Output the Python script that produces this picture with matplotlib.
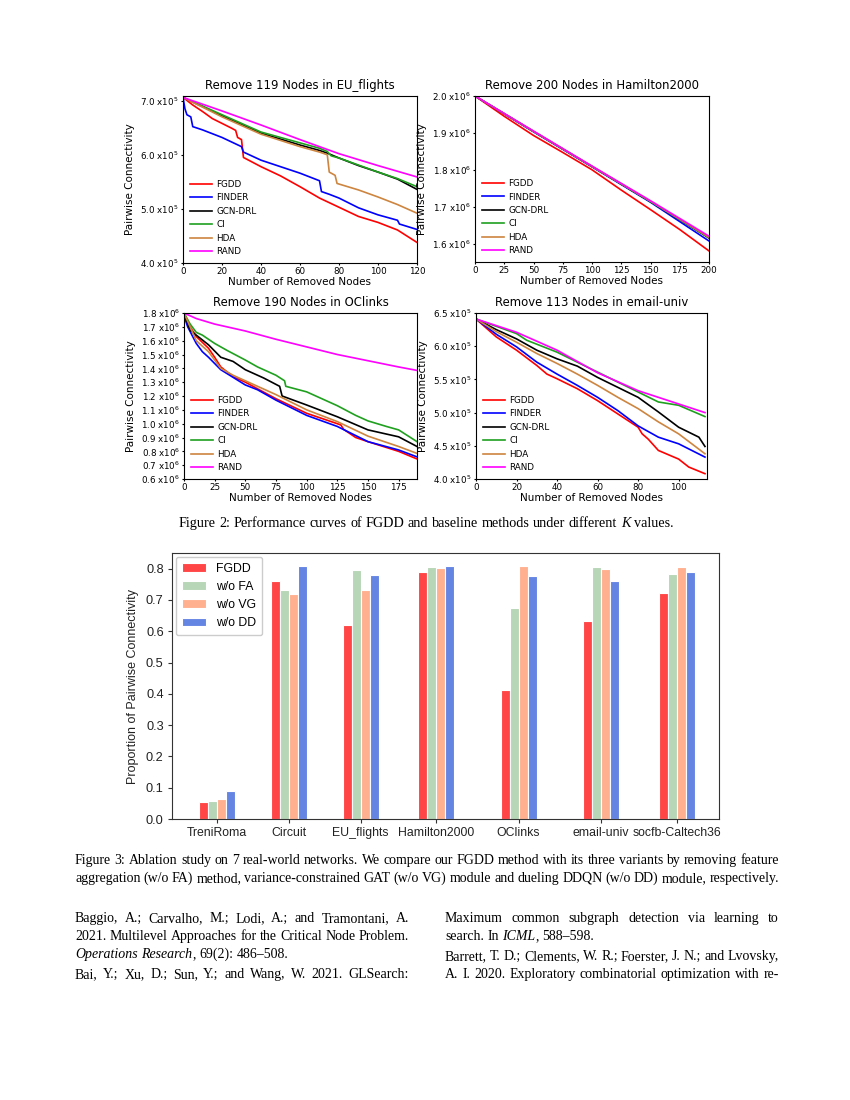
import matplotlib
matplotlib.use('Agg')
import matplotlib.pyplot as plt
from matplotlib.ticker import FuncFormatter

W, H = 850, 1100

methods = ['FGDD', 'FINDER', 'GCN-DRL', 'CI', 'HDA', 'RAND']
line_colors = ['red', 'blue', 'black', '#1fa01f', '#cd853f', 'magenta']

# ---- Figure 2 data (values in units of 10^exp) ----
# EU_flights, 119 nodes, x10^5
eu_x = {
    'FGDD':    [0, 5, 10, 15, 20, 25, 27, 28, 30, 31, 40, 50, 60, 70, 80, 90, 100, 110, 120],
    'FINDER':  [0, 1, 2, 4, 5, 10, 20, 30, 31, 40, 50, 60, 70, 71, 75, 80, 90, 100, 110, 111, 120],
    'GCN-DRL': [0, 20, 40, 60, 70, 74, 80, 90, 100, 110, 120],
    'CI':      [0, 20, 40, 60, 70, 74, 76, 80, 90, 100, 110, 120],
    'HDA':     [0, 20, 40, 60, 70, 74, 75, 78, 79, 90, 100, 110, 120],
    'RAND':    [0, 20, 40, 60, 80, 100, 120],
}
eu_y = {
    'FGDD':    [7.06, 6.92, 6.80, 6.67, 6.58, 6.49, 6.45, 6.32, 6.28, 5.95, 5.78, 5.61, 5.41, 5.20, 5.03, 4.86, 4.75, 4.61, 4.38],
    'FINDER':  [7.06, 6.85, 6.74, 6.70, 6.52, 6.46, 6.32, 6.15, 6.05, 5.90, 5.78, 5.66, 5.52, 5.32, 5.27, 5.20, 5.02, 4.89, 4.79, 4.72, 4.62],
    'GCN-DRL': [7.06, 6.72, 6.40, 6.18, 6.08, 6.03, 5.94, 5.80, 5.68, 5.55, 5.36],
    'CI':      [7.06, 6.74, 6.42, 6.22, 6.12, 6.06, 5.98, 5.94, 5.81, 5.68, 5.56, 5.41],
    'HDA':     [7.06, 6.70, 6.38, 6.15, 6.05, 6.00, 5.68, 5.62, 5.47, 5.35, 5.22, 5.08, 4.92],
    'RAND':    [7.06, 6.81, 6.55, 6.28, 6.02, 5.80, 5.59],
}

# Hamilton2000, 200 nodes, x10^6
ham_x = {
    'FGDD':    [0, 25, 50, 75, 100, 125, 150, 175, 200],
    'FINDER':  [0, 50, 100, 150, 200],
    'GCN-DRL': [0, 50, 100, 150, 200],
    'CI':      [0, 50, 100, 150, 200],
    'HDA':     [0, 50, 100, 150, 200],
    'RAND':    [0, 50, 100, 150, 200],
}
ham_y = {
    'FGDD':    [2.000, 1.945, 1.893, 1.847, 1.800, 1.745, 1.692, 1.638, 1.580],
    'FINDER':  [2.000, 1.903, 1.808, 1.712, 1.607],
    'GCN-DRL': [2.000, 1.904, 1.809, 1.714, 1.615],
    'CI':      [2.000, 1.904, 1.809, 1.714, 1.616],
    'HDA':     [2.000, 1.904, 1.809, 1.715, 1.617],
    'RAND':    [2.000, 1.905, 1.810, 1.716, 1.620],
}

# OClinks, 190 nodes, x10^6
oc_x = {
    'FGDD':    [0, 5, 10, 20, 25, 30, 40, 50, 75, 100, 125, 128, 130, 140, 150, 175, 190],
    'FINDER':  [0, 3, 10, 15, 20, 25, 30, 40, 50, 60, 75, 100, 125, 150, 175, 190],
    'GCN-DRL': [0, 5, 10, 20, 30, 40, 50, 65, 78, 80, 100, 125, 150, 175, 190],
    'CI':      [0, 5, 10, 15, 25, 35, 50, 60, 75, 82, 83, 100, 115, 125, 140, 150, 165, 175, 190],
    'HDA':     [0, 10, 20, 25, 30, 40, 50, 75, 100, 125, 150, 175, 190],
    'RAND':    [0, 5, 10, 25, 50, 75, 100, 125, 150, 175, 190],
}
oc_y = {
    'FGDD':    [1.80, 1.70, 1.63, 1.545, 1.48, 1.41, 1.34, 1.30, 1.18, 1.075, 1.00, 0.99, 0.96, 0.90, 0.87, 0.80, 0.745],
    'FINDER':  [1.78, 1.70, 1.58, 1.52, 1.48, 1.435, 1.39, 1.335, 1.28, 1.245, 1.17, 1.06, 0.98, 0.87, 0.81, 0.76],
    'GCN-DRL': [1.80, 1.675, 1.64, 1.57, 1.48, 1.45, 1.39, 1.33, 1.27, 1.20, 1.135, 1.05, 0.955, 0.905, 0.835],
    'CI':      [1.80, 1.72, 1.66, 1.64, 1.58, 1.53, 1.46, 1.41, 1.35, 1.31, 1.27, 1.23, 1.17, 1.13, 1.06, 1.02, 0.98, 0.955, 0.87],
    'HDA':     [1.80, 1.60, 1.52, 1.46, 1.40, 1.35, 1.31, 1.21, 1.10, 1.015, 0.91, 0.835, 0.785],
    'RAND':    [1.80, 1.78, 1.76, 1.72, 1.67, 1.61, 1.555, 1.50, 1.455, 1.41, 1.385],
}

# email-univ, 113 nodes, x10^5
em_x = {
    'FGDD':    [0, 10, 20, 30, 35, 40, 50, 60, 70, 80, 82, 85, 90, 100, 105, 113],
    'FINDER':  [0, 10, 20, 30, 40, 50, 60, 70, 80, 90, 100, 113],
    'GCN-DRL': [0, 10, 20, 30, 40, 50, 60, 70, 80, 90, 100, 110, 113],
    'CI':      [0, 20, 25, 40, 60, 80, 90, 100, 113],
    'HDA':     [0, 10, 20, 30, 40, 50, 60, 70, 80, 90, 100, 113],
    'RAND':    [0, 20, 40, 60, 80, 100, 113],
}
em_y = {
    'FGDD':    [6.41, 6.14, 5.94, 5.71, 5.58, 5.51, 5.36, 5.18, 4.98, 4.78, 4.68, 4.60, 4.43, 4.30, 4.18, 4.08],
    'FINDER':  [6.41, 6.18, 5.99, 5.76, 5.58, 5.41, 5.23, 5.03, 4.80, 4.63, 4.53, 4.33],
    'GCN-DRL': [6.41, 6.25, 6.11, 5.94, 5.81, 5.70, 5.53, 5.38, 5.23, 5.01, 4.78, 4.63, 4.49],
    'CI':      [6.41, 6.19, 6.09, 5.91, 5.61, 5.31, 5.16, 5.11, 4.94],
    'HDA':     [6.41, 6.22, 6.06, 5.89, 5.74, 5.58, 5.41, 5.23, 5.06, 4.86, 4.68, 4.38],
    'RAND':    [6.41, 6.21, 5.94, 5.60, 5.33, 5.13, 5.00],
}

# ---- Figure 3 data ----
networks = ['TreniRoma', 'Circuit', 'EU_flights', 'Hamilton2000', 'OClinks', 'email-univ', 'socfb-Caltech36']
variants = ['FGDD', 'w/o FA', 'w/o VG', 'w/o DD']
abl_fgdd = [0.055, 0.760, 0.620, 0.789, 0.413, 0.634, 0.722]
abl_wofa = [0.058, 0.733, 0.797, 0.804, 0.673, 0.804, 0.784]
abl_wovg = [0.065, 0.718, 0.733, 0.803, 0.808, 0.799, 0.806]
abl_wodd = [0.088, 0.808, 0.779, 0.808, 0.776, 0.760, 0.788]
bar_colors = ['#ff4545', '#b7d5b7', '#ffb08f', '#6585e3']

fig = plt.figure(figsize=(W / 100, H / 100), dpi=100)


def add_ax(l, t, w, h):
    return fig.add_axes([l / W, 1 - (t + h) / H, w / W, h / H])


def sci(exp):
    return FuncFormatter(lambda v, p: '%.1f x10$^%d$' % (v, exp))


panels = [
    ('Remove 119 Nodes in EU_flights', eu_x, eu_y, 5, (0, 120), range(0, 121, 20),
     (4.0, 7.086), [4.0, 5.0, 6.0, 7.0], (183, 96, 234, 167)),
    ('Remove 200 Nodes in Hamilton2000', ham_x, ham_y, 6, (0, 200), range(0, 201, 25),
     (1.55, 2.0), [1.6, 1.7, 1.8, 1.9, 2.0], (475, 96, 234, 166)),
    ('Remove 190 Nodes in OClinks', oc_x, oc_y, 6, (0, 190), range(0, 176, 25),
     (0.6, 1.8), [0.6 + 0.1 * i for i in range(13)], (184, 313, 233, 166)),
    ('Remove 113 Nodes in email-univ', em_x, em_y, 5, (0, 114), range(0, 101, 20),
     (4.0, 6.5), [4.0, 4.5, 5.0, 5.5, 6.0, 6.5], (476, 313, 231, 166)),
]

for title, xs, ys, exp, xlim, xticks, ylim, yticks, box in panels:
    ax = add_ax(*box)
    for m, c in zip(methods, line_colors):
        ax.plot(xs[m], ys[m], color=c, lw=1.2, label=m)
    ax.set_xlim(*xlim)
    ax.set_ylim(*ylim)
    ax.set_xticks(list(xticks))
    ax.set_yticks(yticks)
    ax.yaxis.set_major_formatter(sci(exp))
    ax.tick_params(labelsize=6.3, length=1.5, pad=1.5)
    ax.set_title(title, fontsize=8.4, pad=5)
    ax.set_xlabel('Number of Removed Nodes', fontsize=7.5)
    ax.set_ylabel('Pairwise Connectivity', fontsize=7.5)
    ax.xaxis.set_label_coords(0.5, -14 / box[3])
    ax.yaxis.set_label_coords(-48 / box[2], 0.5)
    ax.legend(loc='lower left', frameon=False, fontsize=6.3, handlelength=2.5,
              handletextpad=0.5, labelspacing=0.5, borderaxespad=0.4)

# ---- bar chart ----
bfont = 'Liberation Sans'
group_pos = [0, 1, 2, 3.05, 4.2, 5.35, 6.4]
bw = 0.125
ax = add_ax(172, 553, 547, 266)
for i, (name, vals) in enumerate(zip(variants, [abl_fgdd, abl_wofa, abl_wovg, abl_wodd])):
    ax.bar([p + (i - 1.5) * bw for p in group_pos], vals, bw, color=bar_colors[i],
           edgecolor='white', linewidth=0.8, label=name)
ax.set_xlim(-0.625, 6.99)
ax.set_ylim(0, 0.85)
ax.set_xticks(group_pos)
ax.set_xticklabels(networks, family=bfont, fontsize=8.8, color='#222222')
ax.set_yticks([0.1 * i for i in range(9)])
ax.set_yticklabels(['%.1f' % (0.1 * i) for i in range(9)], family=bfont, fontsize=9.2, color='#222222')
ax.tick_params(length=3, width=0.8, color='#333333', pad=3)
for s in ax.spines.values():
    s.set_color('#333333')
ax.set_ylabel('Proportion of Pairwise Connectivity', family=bfont, fontsize=9, color='#222222')
ax.yaxis.set_label_coords(-33 / 547, 0.5)
ax.legend(loc='upper left', prop={'family': bfont, 'size': 8.8}, borderaxespad=0.3,
          borderpad=0.5, fancybox=True, edgecolor='#cccccc', framealpha=1)

# ---- page text (Times-like) ----
serif = 'Liberation Serif'
renderer = fig.canvas.get_renderer()


def seg_width(s, italic, size):
    t = fig.text(0, 0, s, family=serif, fontsize=size, style='italic' if italic else 'normal')
    w = t.get_window_extent(renderer).width
    t.remove()
    return w


def put_line(text, x0, base, width=None, align='left', size=10.0):
    italic = False
    words = []
    for tok in text.split():
        parts = tok.split('*')
        segs = []
        for j, p in enumerate(parts):
            if j > 0:
                italic = not italic
            if p:
                segs.append((p, italic))
        words.append(segs)
    widths = [sum(seg_width(s, it, size) for s, it in w) for w in words]
    space = 0.25 * size * 100 / 72
    if width is not None and len(words) > 1:
        gap = (width - sum(widths)) / (len(words) - 1)
    else:
        gap = space
    total = sum(widths) + gap * (len(words) - 1)
    x = x0 - total / 2 if align == 'center' else x0
    for segs, w in zip(words, widths):
        xx = x
        for s, it in segs:
            fig.text(xx / W, 1 - base / H, s, family=serif, fontsize=size,
                     style='italic' if it else 'normal', ha='left', va='baseline')
            xx += seg_width(s, it, size)
        x += w + gap


put_line('Figure 2: Performance curves of FGDD and baseline methods under different *K* values.',
         426, 527, align='center', size=10.2)
put_line('Figure 3: Ablation study on 7 real-world networks. We compare our FGDD method with its three '
         'variants by removing feature', 75, 864, width=704)
put_line('aggregation (w/o FA) method, variance-constrained GAT (w/o VG) module and dueling DDQN '
         '(w/o DD) module, respectively.', 75, 882, width=704)

put_line('Baggio, A.; Carvalho, M.; Lodi, A.; and Tramontani, A.', 75, 922, width=334)
put_line('2021. Multilevel Approaches for the Critical Node Problem.', 75, 940, width=334)
put_line('*Operations Research*, 69(2): 486–508.', 75, 958)
put_line('Bai, Y.; Xu, D.; Sun, Y.; and Wang, W. 2021. GLSearch:', 75, 978, width=334)
put_line('Maximum common subgraph detection via learning to', 445, 922, width=334)
put_line('search. In *ICML*, 588–598.', 445, 940)
put_line('Barrett, T. D.; Clements, W. R.; Foerster, J. N.; and Lvovsky,', 445, 960, width=334)
put_line('A. I. 2020. Exploratory combinatorial optimization with re-', 445, 978, width=334)

fig.savefig('out.png', dpi=100)
